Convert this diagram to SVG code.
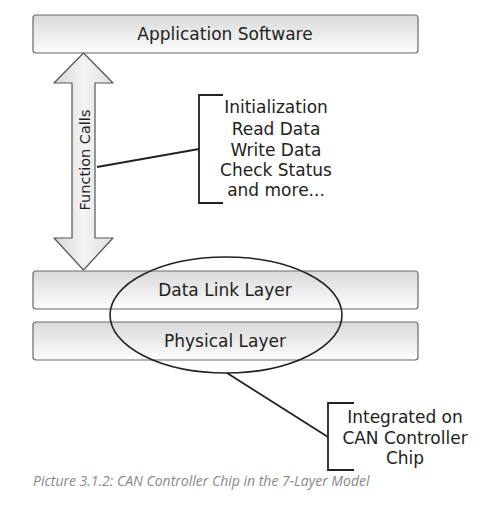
<svg xmlns="http://www.w3.org/2000/svg" width="488" height="507" viewBox="0 0 488 507">
<defs>
<linearGradient id="boxg" x1="0" y1="0" x2="0" y2="1">
<stop offset="0" stop-color="#d9d9d9"/>
<stop offset="1" stop-color="#fdfdfd"/>
</linearGradient>
<linearGradient id="arrg" x1="0" y1="0" x2="1" y2="0">
<stop offset="0" stop-color="#d6d6d6"/>
<stop offset="0.5" stop-color="#f4f4f4"/>
<stop offset="1" stop-color="#e0e0e0"/>
</linearGradient>
</defs>
<style>
.box{fill:url(#boxg);stroke:#6a6a6a;stroke-width:1.2}
.lbl{font-family:"DejaVu Sans",Verdana,sans-serif;font-size:17px;fill:#222;text-anchor:middle}
.ln{fill:none;stroke:#222;stroke-width:1.8}
.cap{font-family:"Open Sans",sans-serif;font-style:italic;font-size:14px;fill:#888}
</style>
<rect width="488" height="507" fill="#fff"/>
<g id="app">
<rect class="box" x="33" y="15" width="385" height="38" rx="3"/>
<text class="lbl" x="225" y="40">Application Software</text>
</g>
<g id="function-calls">
<path d="M83.5,53 L113,83 L95,83 L95,238 L113,238 L83.5,270 L54,238 L72,238 L72,83 L54,83 Z" fill="url(#arrg)" stroke="#555" stroke-width="1.2" stroke-linejoin="round"/>
<text class="lbl" transform="translate(89.5,160) rotate(-90)" style="font-size:14.5px">Function Calls</text>
</g>
<g id="datalink">
<rect class="box" x="33" y="271" width="385" height="38" rx="3"/>
<text class="lbl" x="225" y="295.5">Data Link Layer</text>
</g>
<g id="physical">
<rect class="box" x="33" y="322" width="385" height="38" rx="3"/>
<text class="lbl" x="225" y="346.5">Physical Layer</text>
</g>
<g id="chip-ellipse">
<ellipse cx="226" cy="315" rx="116" ry="58" fill="none" stroke="#222" stroke-width="1.6"/>
</g>
<g id="functions-note">
<path class="ln" d="M223,95 L199,95 L199,203 L223,203"/>
<text class="lbl" x="276" y="113">Initialization</text>
<text class="lbl" x="276" y="135">Read Data</text>
<text class="lbl" x="276" y="156">Write Data</text>
<text class="lbl" x="276" y="176">Check Status</text>
<text class="lbl" x="276" y="196">and more...</text>
</g>
<g id="chip-note">
<path class="ln" d="M354,403 L328,403 L328,470 L354,470"/>
<text class="lbl" x="405" y="423">Integrated on</text>
<text class="lbl" x="405" y="444">CAN Controller</text>
<text class="lbl" x="405" y="464">Chip</text>
</g>
<g id="connectors">
<line class="ln" x1="97" y1="167" x2="199" y2="149"/>
<line class="ln" x1="227" y1="373" x2="328" y2="437"/>
</g>
<text class="cap" x="33" y="486">Picture 3.1.2: CAN Controller Chip in the 7-Layer Model</text>
</svg>
